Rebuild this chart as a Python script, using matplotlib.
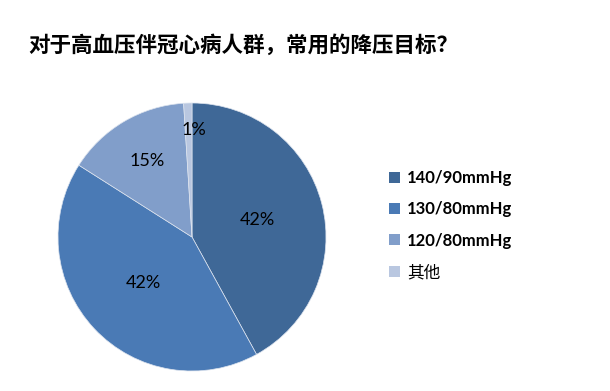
import numpy as np
import matplotlib
matplotlib.use("Agg")
import matplotlib.pyplot as plt
from matplotlib.patches import Patch

plt.rcParams['font.family'] = ['Noto Sans CJK SC', 'DejaVu Sans']

title = "对于高血压伴冠心病人群，常用的降压目标？"
categories = ["140/90mmHg", "130/80mmHg", "120/80mmHg", "其他"]
values = [42, 42, 15, 1]
colors = ["#3F6897", "#4A7AB5", "#819ECA", "#B9C7E0"]

W, H = 610, 391
fig = plt.figure(figsize=(W / 100, H / 100), dpi=100)

cx, cy, r = 192, 237, 134
ax = fig.add_axes([(cx - r) / W, (H - cy - r) / H, 2 * r / W, 2 * r / H])
wedges, texts, autotexts = ax.pie(
    values, colors=colors, startangle=90, counterclock=False,
    autopct=lambda p: f"{p:.0f}%", pctdistance=0.5,
    wedgeprops=dict(edgecolor="#DCE3EE", linewidth=0.5),
    textprops=dict(fontsize=13, color="#000000", family=['Lato', 'DejaVu Sans']))
ax.set_aspect('equal')
ax.set_xlim(-1, 1)
ax.set_ylim(-1, 1)

# adjust radial placement of the small-slice labels
label_r = [0.5, 0.5, 0.66, 0.8]
for w, t, lr in zip(wedges, autotexts, label_r):
    ang = np.deg2rad((w.theta1 + w.theta2) / 2)
    x, y = lr * np.cos(ang), lr * np.sin(ang)
    if lr == 0.8:
        x += 0.04
    t.set_position((x, y))

fig.text(28 / W, 1 - 45 / H, title, fontsize=15.5, fontweight='bold',
         va='center', ha='left', color="#000000")

handles = [Patch(facecolor=c, edgecolor='none') for c in colors]
leg = fig.legend(handles, categories, loc='upper left',
                 bbox_to_anchor=(374 / W, 1 - 155 / H), frameon=False,
                 handlelength=0.65, handleheight=0.65, handletextpad=0.45,
                 labelspacing=0.92, prop=dict(size=12, weight='bold',
                                              family=['Lato', 'Noto Sans CJK SC']))
leg.get_texts()[3].set_fontweight('normal')

fig.savefig("out.png", dpi=100, facecolor="white")
